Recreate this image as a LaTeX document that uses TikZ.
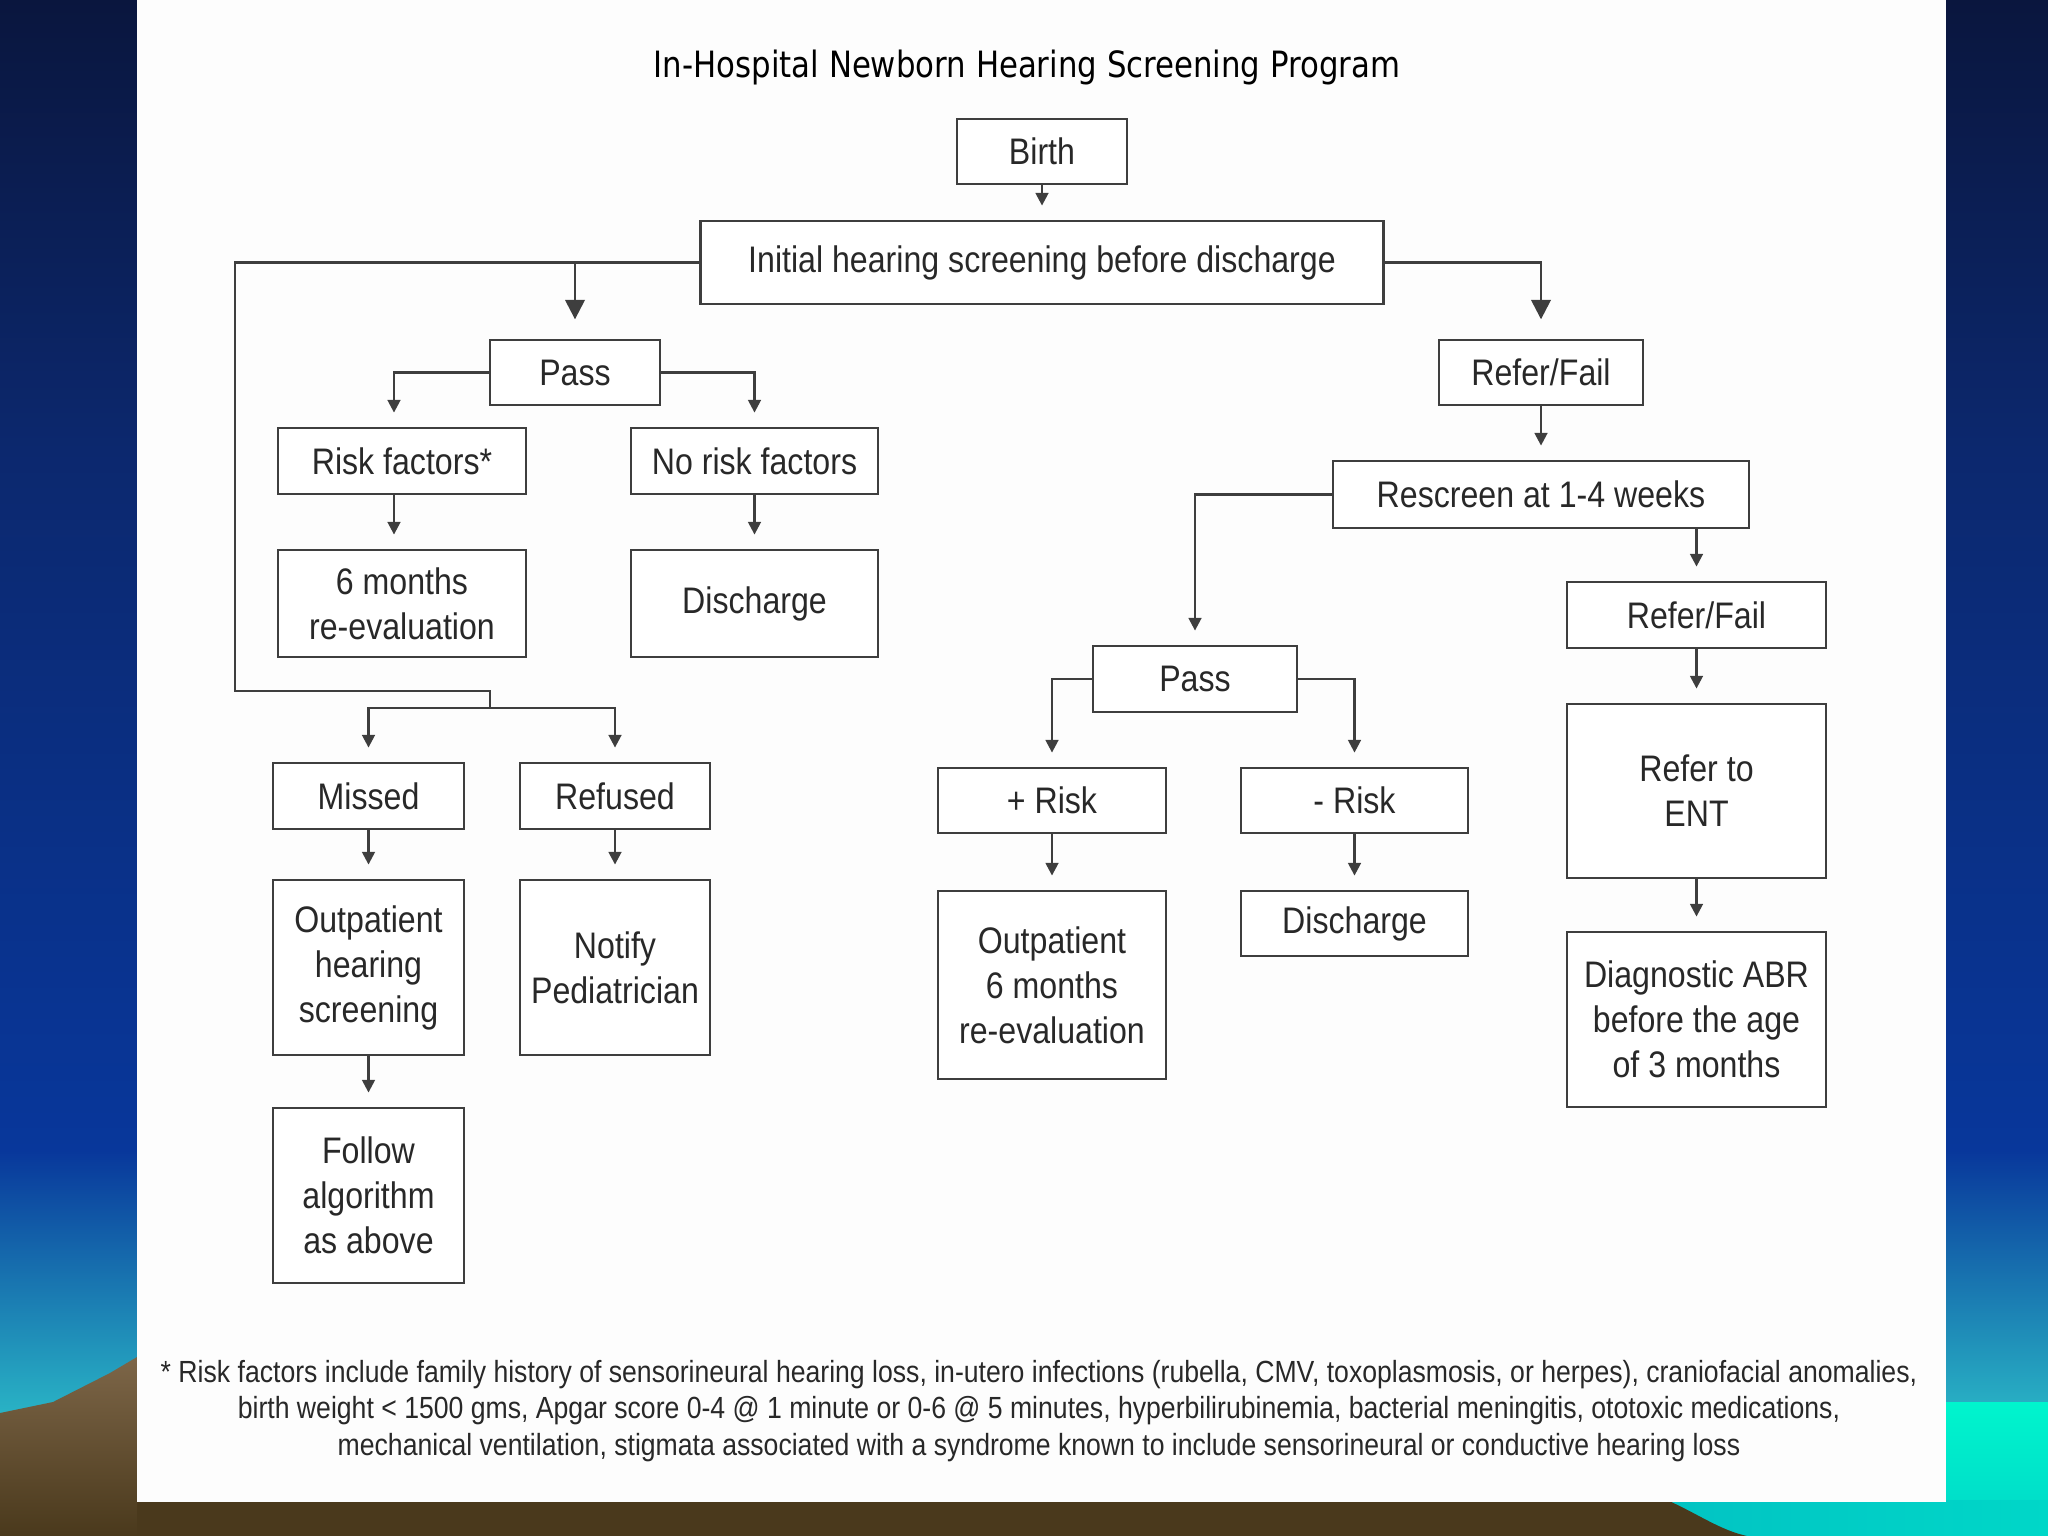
\documentclass[tikz,border=0pt]{standalone}
\usepackage{fontspec}
\setmainfont{Liberation Sans}[FakeStretch=0.87]
\newfontfamily\titlefont{DejaVu Sans}[FakeStretch=0.85]
\usepackage{tikz}
\usetikzlibrary{arrows.meta, positioning}
\definecolor{HSInk}{RGB}{40,40,40}
\definecolor{HSLine}{RGB}{62,62,62}
\definecolor{HSPaper}{RGB}{253,253,253}
\definecolor{HSNavy}{RGB}{10,22,62}
\definecolor{HSDeep}{RGB}{12,40,110}
\definecolor{HSBlue}{RGB}{8,55,155}
\definecolor{HSTeal}{RGB}{42,182,198}
\definecolor{HSAqua}{RGB}{0,245,205}
\definecolor{HSAquaDk}{RGB}{0,215,200}
\definecolor{HSSea}{RGB}{10,115,175}
\definecolor{HSBrown}{RGB}{125,102,72}
\definecolor{HSBrownDk}{RGB}{74,57,28}

\begin{document}
\begin{tikzpicture}[x=0.01cm, y=-0.01cm,
    box/.style={rectangle, draw=HSLine, line width=0.75pt, fill=white, text=HSInk,
                inner sep=0pt, align=center, font=\fontsize{10.5}{12.8}\selectfont},
    ln/.style={HSLine, line width=0.7pt},
    arr/.style={ln, -{Triangle[length=3.6pt, width=3.6pt]}, shorten >=4pt},
    bigarr/.style={ln, -{Triangle[length=5.5pt, width=5.5pt]}, shorten >=5.5pt}
  ]
  \useasboundingbox (0,0) rectangle (2048,1536);

  % slide background
  \shade[top color=HSNavy, bottom color=HSDeep] (0,0) rectangle (2048,450);
  \shade[top color=HSDeep, bottom color=HSBlue] (0,449) rectangle (2048,1151);
  \shade[top color=HSBlue, bottom color=HSTeal] (0,1150) rectangle (2048,1420);
  \shade[top color=HSAqua, bottom color=HSAquaDk] (1946,1402) rectangle (2048,1536);
  \shade[left color=HSSea, right color=HSAquaDk] (137,1500) rectangle (2048,1536);
  \fill[HSBrownDk] (0,1500) -- (1667,1500) .. controls (1700,1515) and (1720,1530) .. (1747,1536)
        -- (0,1536) -- cycle;
  \shade[top color=HSBrown, bottom color=HSBrownDk] (0,1413) -- (53,1402) -- (110,1373)
        -- (137,1357) -- (137,1536) -- (0,1536) -- cycle;
  \fill[HSPaper] (137,0) rectangle (1946,1502);

  \node[font=\titlefont\fontsize{10.3}{12}\selectfont, text=black] (title) at (1027,68)
        {In-Hospital Newborn Hearing Screening Program};

  % top
  \node[box, minimum width=1.70cm, minimum height=0.65cm] (birth) at (1042,151.5) {Birth};
  \node[box, minimum width=6.82cm, minimum height=0.83cm] (init) at (1042,262.5)
        {Initial hearing screening before discharge};

  % pass branch
  \node[box, minimum width=1.70cm, minimum height=0.65cm] (pass1) at (575,372.5) {Pass};
  \node[box, minimum width=2.48cm, minimum height=0.66cm] (riskf) at (402,461) {Risk factors*};
  \node[box, minimum width=2.47cm, minimum height=0.66cm] (norisk) at (754.5,461) {No risk factors};
  \node[box, minimum width=2.48cm, minimum height=1.07cm] (sixmo) at (402,603.5)
        {6 months\\re-evaluation};
  \node[box, minimum width=2.47cm, minimum height=1.07cm] (disch1) at (754.5,603.5) {Discharge};

  % missed / refused
  \node[box, minimum width=1.91cm, minimum height=0.66cm] (missed) at (368.5,796) {Missed};
  \node[box, minimum width=1.90cm, minimum height=0.66cm] (refused) at (615,796) {Refused};
  \node[box, minimum width=1.91cm, minimum height=1.75cm] (outhear) at (368.5,967.5)
        {Outpatient\\hearing\\screening};
  \node[box, minimum width=1.90cm, minimum height=1.75cm] (notify) at (615,967.5)
        {Notify\\Pediatrician};
  \node[box, minimum width=1.91cm, minimum height=1.75cm] (follow) at (368.5,1195.5)
        {Follow\\algorithm\\as above};

  % refer branch
  \node[box, minimum width=2.04cm, minimum height=0.65cm] (refer1) at (1541,372.5) {Refer/Fail};
  \node[box, minimum width=4.16cm, minimum height=0.67cm] (rescreen) at (1541,494.5)
        {Rescreen at 1-4 weeks};
  \node[box, minimum width=2.59cm, minimum height=0.66cm] (refer2) at (1696.5,615) {Refer/Fail};
  \node[box, minimum width=2.59cm, minimum height=1.74cm] (ent) at (1696.5,791) {Refer to\\ENT};
  \node[box, minimum width=2.59cm, minimum height=1.75cm] (abr) at (1696.5,1019.5)
        {Diagnostic ABR\\before the age\\of 3 months};
  \node[box, minimum width=2.04cm, minimum height=0.66cm] (pass2) at (1195,679) {Pass};
  \node[box, minimum width=2.28cm, minimum height=0.65cm] (prisk) at (1052,800.5) {+ Risk};
  \node[box, minimum width=2.27cm, minimum height=0.65cm] (mrisk) at (1354.5,800.5) {- Risk};
  \node[box, minimum width=2.28cm, minimum height=1.88cm] (outsix) at (1052,985)
        {Outpatient\\6 months\\re-evaluation};
  \node[box, minimum width=2.27cm, minimum height=0.65cm] (disch2) at (1354.5,923.5) {Discharge};

  \node[font=\fontsize{8.7}{10.4}\selectfont, text=HSInk, align=center] (note) at (1039,1411)
        {* Risk factors include family history of sensorineural hearing loss, in-utero infections (rubella, CMV, toxoplasmosis, or herpes), craniofacial anomalies,\\
         birth weight < 1500 gms, Apgar score 0-4 @ 1 minute or 0-6 @ 5 minutes, hyperbilirubinemia, bacterial meningitis, ototoxic medications,\\
         mechanical ventilation, stigmata associated with a syndrome known to include sensorineural or conductive hearing loss};

  % connectors
  \coordinate (loop) at (235,691);
  \coordinate (split) at (490,708);
  \draw[arr] (birth) -- (init);
  \draw[bigarr] (init.west) -| (pass1.north);
  \draw[bigarr] (init.east) -| (refer1.north);
  \draw[ln] (init.west) -| (loop) -| (split);
  \draw[arr] (split) -| (missed.north);
  \draw[arr] (split) -| (refused.north);
  \draw[arr] (pass1.west) -| ([xshift=-0.08cm]riskf.north);
  \draw[arr] (pass1.east) -| (norisk.north);
  \draw[arr] ([xshift=-0.08cm]riskf.south) -- ([xshift=-0.08cm]sixmo.north);
  \draw[arr] (norisk) -- (disch1);
  \draw[arr] (missed) -- (outhear);
  \draw[arr] (refused) -- (notify);
  \draw[arr] (outhear) -- (follow);
  \draw[arr] (refer1) -- (rescreen);
  \draw[arr] (rescreen.west) -| (pass2.north);
  \draw[arr] (rescreen.south -| refer2.north) -- (refer2.north);
  \draw[arr] (refer2) -- (ent);
  \draw[arr] (ent) -- (abr);
  \draw[arr] (pass2.west) -| (prisk.north);
  \draw[arr] (pass2.east) -| (mrisk.north);
  \draw[arr] (prisk) -- (outsix);
  \draw[arr] (mrisk) -- (disch2);
\end{tikzpicture}
\end{document}
